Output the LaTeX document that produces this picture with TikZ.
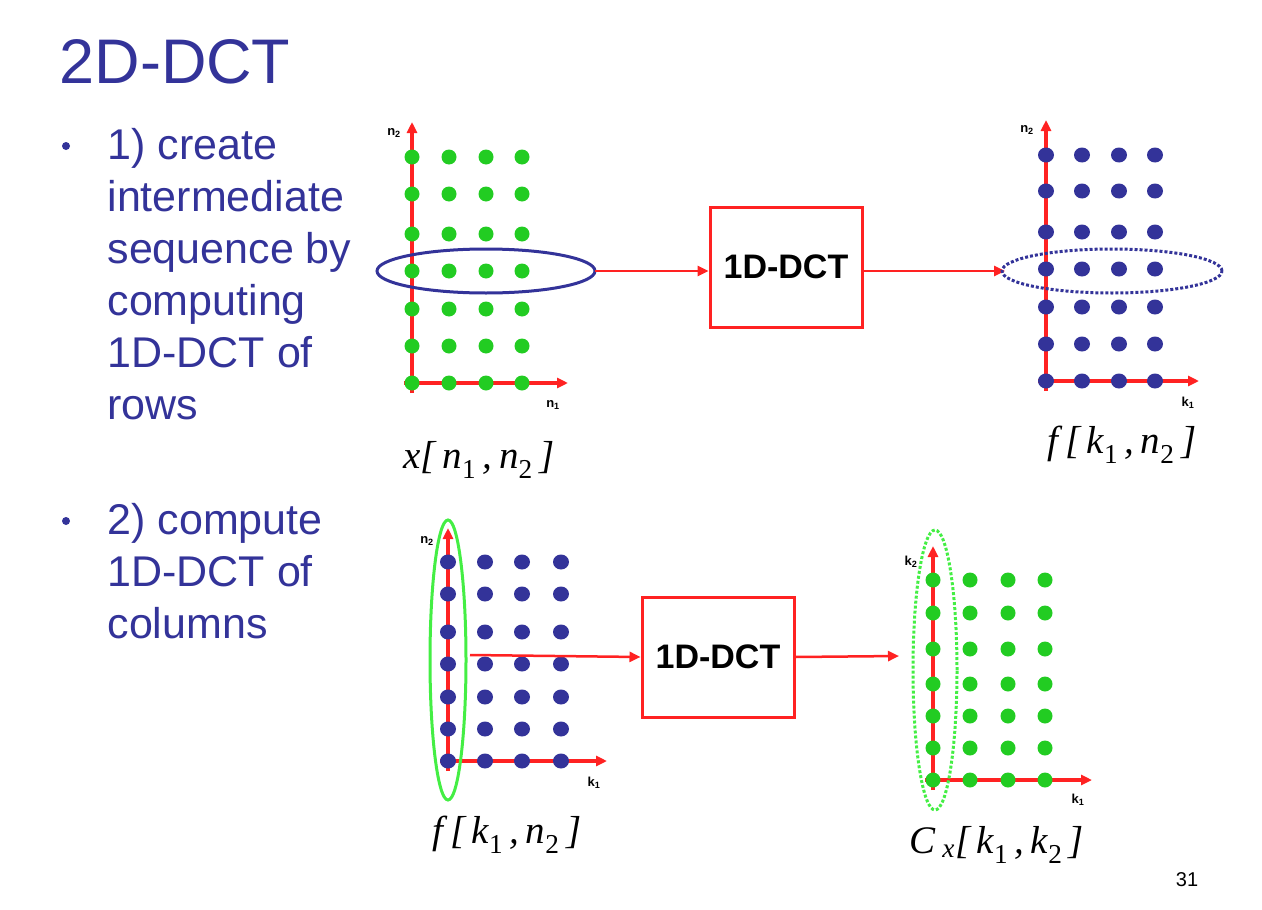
\documentclass[tikz,border=0pt]{standalone}
\usepackage{fontspec}
\setmainfont{Liberation Sans}
\newfontfamily\tms{Liberation Serif}
\usetikzlibrary{arrows.meta}
\definecolor{navy}{HTML}{333399}
\definecolor{dgreen}{HTML}{22CC22}
\definecolor{lgreen}{HTML}{44EE44}
\definecolor{myred}{HTML}{FF2222}
\tikzset{
 axis/.style={myred,line width=3.5pt,-{Triangle[length=11pt,width=10pt]}},
 flow/.style={myred,line width=2.5pt,-{Triangle[length=11pt,width=10pt]}},
 dctbox/.style={draw=myred,line width=3pt,minimum width=152pt,minimum height=120pt,font=\bfseries\fontsize{34}{38}\selectfont},
 axlab/.style={font=\bfseries\fontsize{13}{14}\selectfont},
 mlab/.style={font=\tms\itshape\fontsize{39}{42}\selectfont},
 bul/.style={navy,align=left,anchor=north west,font=\fontsize{43}{52}\selectfont},
 bdot/.style={navy,circle,fill,inner sep=0pt,minimum size=8pt}
}
\newcommand{\dotgrid}[4]{%
 \foreach \xx in {#2}{\foreach \yy in {#3}{\fill[#1] (\xx,\yy) ellipse (#4pt and 7.5pt);}}}
\begin{document}
\begin{tikzpicture}[x=1pt,y=-1pt]
\useasboundingbox (0,0) rectangle (1262,910);
\node[navy,anchor=west,font=\fontsize{63}{66}\selectfont] (title) at (56,62) {2D-DCT};
\node[bdot] (b1dot) at (66,146) {};
\node[bul] (b1) at (104,125) {1) create\\intermediate\\sequence by\\computing\\1D-DCT of\\rows};
\node[bdot] (b2dot) at (66,521) {};
\node[bul] (b2) at (104,500) {2) compute\\1D-DCT of\\columns};
% grid 1
\draw[axis] (412,393) -- (412,122);
\draw[axis] (404,383) -- (568,383);
\dotgrid{dgreen}{412,449,486,522}{157,194,234,271,309,346,383}{7.5}
\node[axlab] (g1y) at (394,133) {n\textsubscript{2}};
\node[axlab] (g1x) at (553,405) {n\textsubscript{1}};
\draw[navy,line width=3pt] (486,271) ellipse (109pt and 22pt);
\coordinate (e1) at (595,271);
\node[dctbox] (box1) at (786,267) {1D-DCT};
\draw[flow] (e1) -- (box1.west|-e1);
\coordinate (e2) at (1005,271);
\draw[flow] (box1.east|-e1) -- (e2);
% grid 2
\draw[axis] (1046,391) -- (1046,120);
\draw[axis] (1038,381) -- (1199,381);
\dotgrid{navy}{1046,1082,1119,1155}{155,191,232,269,307,344,381}{8}
\node[axlab] (g2y) at (1027,130) {n\textsubscript{2}};
\node[axlab] (g2x) at (1188,403) {k\textsubscript{1}};
\draw[navy,line width=3pt,dotted] (1112,271) ellipse (110pt and 22pt);
\node[mlab] (l1) at (479,460) {x[\,n\textsubscript{\upshape1}\,,\,n\textsubscript{\upshape 2}\,]};
\node[mlab] (l2) at (1122,445) {f\,[\,k\textsubscript{\upshape1}\,,\,n\textsubscript{\upshape 2}\,]};
% grid 3
\draw[axis] (448,771) -- (448,528);
\draw[axis] (440,761) -- (607,761);
\dotgrid{navy}{448,485,522,561}{562,594,632,664,697,729,761}{8}
\node[axlab] (g3y) at (427,541) {n\textsubscript{2}};
\node[axlab] (g3x) at (594,783) {k\textsubscript{1}};
\draw[lgreen,line width=3pt] (448,660) ellipse (18pt and 140pt);
\coordinate (e3) at (470,655);
\node[dctbox] (box2) at (718,657) {1D-DCT};
\draw[flow] (e3) -- (box2.west);
\coordinate (e4) at (899,656);
\draw[flow] (box2.east) -- (e4);
% grid 4
\draw[axis] (933,790) -- (933,546);
\draw[axis] (925,780) -- (1092,780);
\dotgrid{dgreen}{933,970,1008,1045}{580,613,649,684,716,748,780}{7.5}
\node[axlab] (g4y) at (911,562) {k\textsubscript{2}};
\node[axlab] (g4x) at (1078,800) {k\textsubscript{1}};
\draw[lgreen,line width=3pt,dotted] (935,670) ellipse (22pt and 140pt);
\node[mlab] (l3) at (507,835) {f\,[\,k\textsubscript{\upshape1}\,,\,n\textsubscript{\upshape 2}\,]};
\node[mlab] (l4) at (997,845) {C\,\textsubscript{x}[\,k\textsubscript{\upshape1}\,,\,k\textsubscript{\upshape 2}\,]};
\node[font=\fontsize{20}{24}\selectfont] (pg) at (1187,880) {31};
\end{tikzpicture}
\end{document}
